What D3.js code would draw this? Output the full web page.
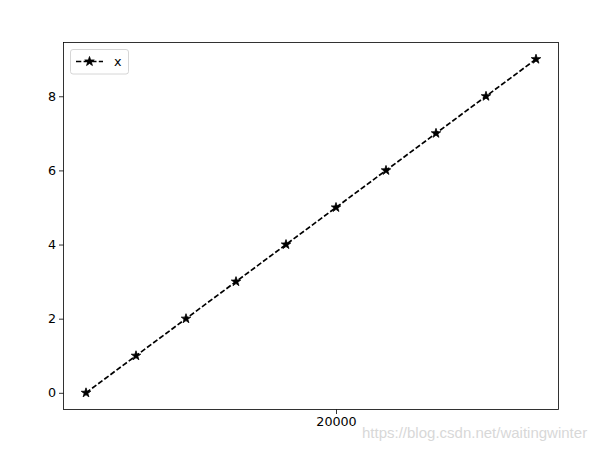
<!DOCTYPE html>
<html><head><meta charset="utf-8">
<script src="https://cdn.jsdelivr.net/npm/d3@7"></script>
<style>body{margin:0;background:#fff}svg{display:block}text{font-family:"DejaVu Sans",sans-serif}</style>
</head><body>
<svg id="c" width="611" height="452"></svg>
<script>
const xValues = [15000,16000,17000,18000,19000,20000,21000,22000,23000,24000];
const yValues = [0,1,2,3,4,5,6,7,8,9];
const xTicks = [20000];
const yTicks = [0,2,4,6,8];
const seriesName = "x";
const watermark = "https://blog.csdn.net/waitingwinter";

const svg = d3.select("#c");
const L=63.5, R=558.5, T=42.5, B=409.5;
const x = d3.scaleLinear().domain([14550,24450]).range([L,R]);
const y = d3.scaleLinear().domain([-0.45,9.45]).range([B,T]);
const fs = 12.7;

const gx = svg.append("g").attr("transform",`translate(0,${B})`)
  .call(d3.axisBottom(x).tickValues(xTicks).tickFormat(d3.format("d")).tickSize(4.5).tickPadding(3));
const gy = svg.append("g").attr("transform",`translate(${L},0)`)
  .call(d3.axisLeft(y).tickValues(yTicks).tickFormat(d3.format("d")).tickSize(4.5).tickPadding(3));
[gx,gy].forEach(g=>{
  g.select(".domain").remove();
  g.selectAll("line").attr("stroke","#000").attr("stroke-width",0.8);
  g.selectAll("text").attr("fill","#000").style("font-size",fs+"px").style("font-family","DejaVu Sans");
});

const star = d3.symbol().type(d3.symbolStar).size(28);
const pts = xValues.map((v,i)=>[x(v),y(yValues[i])]);
svg.append("path").attr("d",d3.line()(pts)).attr("fill","none")
  .attr("stroke","#000").attr("stroke-width",1.7).attr("stroke-dasharray","5.3,2.3");
svg.selectAll(".m").data(pts).enter().append("path")
  .attr("d",star).attr("transform",d=>`translate(${d[0]},${d[1]})`).attr("fill","#000")
  .attr("stroke","#000").attr("stroke-width",0.8);

svg.append("rect").attr("x",L).attr("y",T).attr("width",R-L).attr("height",B-T)
  .attr("fill","none").attr("stroke","#000").attr("stroke-width",0.8);

svg.append("rect").attr("x",70.5).attr("y",49.5).attr("width",58).attr("height",24.5).attr("rx",2.5)
  .attr("fill","#fff").attr("fill-opacity",0.8).attr("stroke","#ccc").attr("stroke-width",0.8);
svg.append("line").attr("x1",76).attr("x2",103).attr("y1",61.5).attr("y2",61.5)
  .attr("stroke","#000").attr("stroke-width",1.7).attr("stroke-dasharray","5.3,2.3");
svg.append("path").attr("d",star).attr("transform","translate(89.5,61.5)").attr("fill","#000")
  .attr("stroke","#000").attr("stroke-width",0.8);
svg.append("text").attr("x",114).attr("y",66).text(seriesName).style("font-size",fs+"px").attr("fill","#000");

svg.append("text").attr("x",362).attr("y",438).text(watermark)
  .style("font-family","Liberation Sans, Arial, sans-serif").style("font-size","15px").attr("fill","#d8d8d8");
</script>
</body></html>
